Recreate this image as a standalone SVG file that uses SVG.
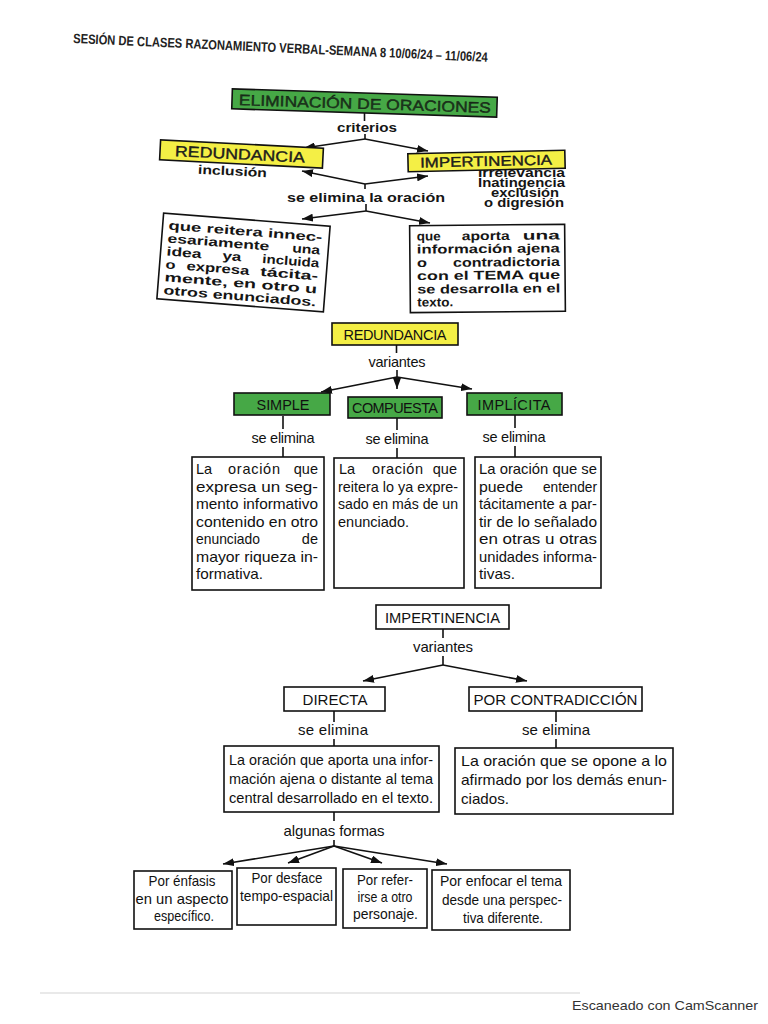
<svg xmlns="http://www.w3.org/2000/svg" width="768" height="1024" viewBox="0 0 768 1024">
<style>
.bx{stroke:#111;stroke-width:1.6}
.w{fill:#fff}
.y{fill:#f4ef45}
.g{fill:#46a846}
.c{fill:none;stroke:#111;stroke-width:1.6}
.a{marker-end:url(#ah)}
.t1{font-family:"Liberation Sans",Arial,sans-serif;font-weight:bold;font-size:12.5px;fill:#151515}
.t2{font-family:"Liberation Sans",Arial,sans-serif;font-size:14.5px;fill:#111}
.t3{font-family:"Liberation Sans",Arial,sans-serif;font-size:15px;fill:#111}
.hd{font-family:"Liberation Sans",Arial,sans-serif;fill:#222;stroke:#111;stroke-width:0.35}
.m{text-anchor:middle}
.e{text-anchor:end}
</style>
<defs>
<marker id="ah" markerUnits="userSpaceOnUse" markerWidth="11" markerHeight="8" refX="11" refY="4" orient="auto"><path d="M0,0 L11,4 L0,8 z" fill="#111"/></marker>
</defs>
<rect x="0" y="0" width="768" height="1024" fill="#fff"/>
<line x1="40" y1="993" x2="580" y2="993" stroke="#e2e2e2" stroke-width="1.5"/>

<g id="header">
<text x="73" y="43" transform="rotate(2.6 73 43)" style="font-family:'Liberation Sans',Arial,sans-serif;font-size:13.5px;font-weight:bold;fill:#222" textLength="415" lengthAdjust="spacingAndGlyphs">SESIÓN DE CLASES RAZONAMIENTO VERBAL-SEMANA 8 10/06/24 – 11/06/24</text>
</g>

<g id="connectors">
<path class="c" d="M364.5,113 V121"/>
<path class="c" d="M365,134 V139"/>
<path class="c a" d="M365,139 L304,148"/>
<path class="c a" d="M365,139 L428,151"/>
<path class="c a" d="M365,184 L302,171"/>
<path class="c a" d="M365,184 L428,176"/>
<path class="c" d="M365,184 V189"/>
<path class="c" d="M366,204 V211"/>
<path class="c a" d="M366,211 L302,219"/>
<path class="c a" d="M366,211 L430,223"/>

<path class="c" d="M396.5,345 V353"/>
<path class="c" d="M397,370 V377"/>
<path class="c a" d="M397,377 V389"/>
<path class="c a" d="M397,377 L321,392"/>
<path class="c a" d="M397,377 L472,389"/>
<path class="c" d="M283,416 V429"/>
<path class="c" d="M283,447 V457"/>
<path class="c" d="M397,418 V430"/>
<path class="c" d="M397,448 V458"/>
<path class="c" d="M515,415 V428"/>
<path class="c" d="M515,446 V457"/>

<path class="c" d="M443,629 V638"/>
<path class="c" d="M443,656 V665"/>
<path class="c a" d="M443,665 L363,681"/>
<path class="c a" d="M443,665 L527,681"/>
<path class="c" d="M334,711 V722"/>
<path class="c" d="M334,739 V746"/>
<path class="c" d="M556,711 V722"/>
<path class="c" d="M556,739 V748"/>
<path class="c" d="M334,812 V821"/>
<path class="c" d="M334,840 V846"/>
<path class="c a" d="M334,846 L223,864"/>
<path class="c a" d="M334,846 L288,863"/>
<path class="c a" d="M334,846 L382,863"/>
<path class="c a" d="M334,846 L447,864"/>
</g>

<g id="labels">
<text class="t1 m" x="367" y="131.5" font-size="13" textLength="60" lengthAdjust="spacingAndGlyphs">criterios</text>
<text class="t1" x="198" y="175.5" font-size="13" transform="rotate(2.9 233 170)" textLength="69" lengthAdjust="spacingAndGlyphs">inclusión</text>
<text class="t1 m" x="366" y="201.5" font-size="13" textLength="158" lengthAdjust="spacingAndGlyphs">se elimina la oración</text>
<text class="t1 e" x="565" y="176.5" font-size="9" textLength="87" lengthAdjust="spacingAndGlyphs">Irrelevancia</text>
<text class="t1 e" x="565" y="186.5" font-size="9" textLength="87" lengthAdjust="spacingAndGlyphs">Inatingencia</text>
<text class="t1 e" x="559" y="196.5" font-size="9" textLength="68" lengthAdjust="spacingAndGlyphs">exclusión</text>
<text class="t1 e" x="564" y="206.5" font-size="9" textLength="80" lengthAdjust="spacingAndGlyphs">o digresión</text>

<text class="t2 m" x="397" y="367" textLength="57">variantes</text>
<text class="t2 m" x="283" y="443" textLength="63">se elimina</text>
<text class="t2 m" x="397" y="444" textLength="63">se elimina</text>
<text class="t2 m" x="514" y="442" textLength="63">se elimina</text>

<text class="t3 m" x="443" y="652" textLength="60">variantes</text>
<text class="t3 m" x="333" y="735" textLength="70">se elimina</text>
<text class="t3 m" x="556" y="735" textLength="68">se elimina</text>
<text class="t3 m" x="334" y="836" textLength="101">algunas formas</text>
</g>

<g id="n-eliminacion" transform="rotate(1.8 364.5 103)">
<rect class="bx g" x="232" y="93" width="265" height="20"/>
<text class="hd m" x="365" y="109" font-size="15" textLength="252" lengthAdjust="spacingAndGlyphs" style="fill:#1c3a1c">ELIMINACIÓN DE ORACIONES</text>
</g>

<g id="n-redundancia1" transform="rotate(2.9 241.5 154)">
<rect class="bx y" x="160" y="144" width="163" height="20"/>
<text class="hd m" x="240" y="159.5" font-size="15" textLength="130" lengthAdjust="spacingAndGlyphs">REDUNDANCIA</text>
</g>

<g id="n-impertinencia1" transform="rotate(-1.3 486.5 161)">
<rect class="bx y" x="408" y="152" width="157" height="18"/>
<text class="hd m" x="486" y="166" font-size="14" textLength="132" lengthAdjust="spacingAndGlyphs">IMPERTINENCIA</text>
</g>

<g id="n-def-redundancia" transform="rotate(4.5 243.5 262.5)">
<rect class="bx w" x="160" y="219.5" width="167" height="86"/>
<text class="t1" x="166" y="235.5" textLength="154" lengthAdjust="spacingAndGlyphs">que reitera innec-</text>
<text class="t1" x="166" y="248.5" textLength="102" lengthAdjust="spacingAndGlyphs">esariamente</text>
<text class="t1 e" x="319" y="248.5" textLength="28" lengthAdjust="spacingAndGlyphs">una</text>
<text class="t1" x="166" y="261.5" textLength="35" lengthAdjust="spacingAndGlyphs">idea</text>
<text class="t1" x="222" y="261.5" textLength="19" lengthAdjust="spacingAndGlyphs">ya</text>
<text class="t1 e" x="319" y="261.5" textLength="57" lengthAdjust="spacingAndGlyphs">incluida</text>
<text class="t1" x="166" y="274.5" textLength="10" lengthAdjust="spacingAndGlyphs">o</text>
<text class="t1" x="187" y="274.5" textLength="63" lengthAdjust="spacingAndGlyphs">expresa</text>
<text class="t1 e" x="319" y="274.5" textLength="58" lengthAdjust="spacingAndGlyphs">tácita-</text>
<text class="t1" x="166" y="287.5" textLength="153" lengthAdjust="spacingAndGlyphs">mente, en otro u</text>
<text class="t1" x="166" y="300.5" textLength="153" lengthAdjust="spacingAndGlyphs">otros enunciados.</text>
</g>

<g id="n-def-impertinencia" transform="rotate(-0.5 487.5 268)">
<rect class="bx w" x="410" y="225" width="155" height="87"/>
<text class="t1" x="417" y="240" textLength="24" lengthAdjust="spacingAndGlyphs">que</text>
<text class="t1" x="462" y="240" textLength="48" lengthAdjust="spacingAndGlyphs">aporta</text>
<text class="t1 e" x="560" y="240" textLength="37" lengthAdjust="spacingAndGlyphs">una</text>
<text class="t1" x="417" y="253" textLength="143" lengthAdjust="spacingAndGlyphs">información ajena</text>
<text class="t1" x="417" y="266.5" textLength="10" lengthAdjust="spacingAndGlyphs">o</text>
<text class="t1 e" x="560" y="266.5" textLength="107" lengthAdjust="spacingAndGlyphs">contradictoria</text>
<text class="t1" x="417" y="279.5" textLength="143" lengthAdjust="spacingAndGlyphs">con el TEMA que</text>
<text class="t1" x="417" y="293" textLength="143" lengthAdjust="spacingAndGlyphs">se desarrolla en el</text>
<text class="t1" x="417" y="306" textLength="36" lengthAdjust="spacingAndGlyphs">texto.</text>
</g>

<g id="n-redundancia2">
<rect class="bx y" x="332" y="323" width="126" height="22"/>
<text class="t2 m" x="395" y="340" font-size="14" textLength="103">REDUNDANCIA</text>
</g>

<g id="n-simple">
<rect class="bx g" x="234" y="393" width="96" height="22"/>
<text class="t2 m" x="283" y="410" font-size="14" textLength="53">SIMPLE</text>
</g>
<g id="n-compuesta">
<rect class="bx g" x="348" y="397" width="94" height="21"/>
<text class="t2 m" x="395" y="413" font-size="14" textLength="86">COMPUESTA</text>
</g>
<g id="n-implicita">
<rect class="bx g" x="467" y="393" width="95" height="22"/>
<text class="t2 m" x="514" y="410" font-size="14" textLength="73">IMPLÍCITA</text>
</g>

<g id="n-def-simple">
<rect class="bx w" x="192" y="457" width="132" height="133"/>
<text class="t2" x="196" y="474">La</text>
<text class="t2" x="228" y="474" textLength="52">oración</text>
<text class="t2 e" x="318" y="474">que</text>
<text class="t2" x="196" y="491.5" textLength="122" lengthAdjust="spacingAndGlyphs">expresa un seg-</text>
<text class="t2" x="196" y="509" textLength="122" lengthAdjust="spacingAndGlyphs">mento informativo</text>
<text class="t2" x="196" y="526.5" textLength="122" lengthAdjust="spacingAndGlyphs">contenido en otro</text>
<text class="t2" x="196" y="544" textLength="64" lengthAdjust="spacingAndGlyphs">enunciado</text>
<text class="t2 e" x="318" y="544">de</text>
<text class="t2" x="196" y="561.5" textLength="122" lengthAdjust="spacingAndGlyphs">mayor riqueza in-</text>
<text class="t2" x="196" y="579" textLength="67" lengthAdjust="spacingAndGlyphs">formativa.</text>
</g>

<g id="n-def-compuesta">
<rect class="bx w" x="334" y="458" width="130" height="130"/>
<text class="t2" x="339" y="474">La</text>
<text class="t2" x="372" y="474" textLength="51">oración</text>
<text class="t2 e" x="457" y="474">que</text>
<text class="t2" x="338" y="491.5" textLength="120" lengthAdjust="spacingAndGlyphs">reitera lo ya expre-</text>
<text class="t2" x="338" y="509" textLength="120" lengthAdjust="spacingAndGlyphs">sado en más de un</text>
<text class="t2" x="338" y="526.5" textLength="71" lengthAdjust="spacingAndGlyphs">enunciado.</text>
</g>

<g id="n-def-implicita">
<rect class="bx w" x="475" y="457" width="126" height="131"/>
<text class="t2" x="479" y="474" textLength="118" lengthAdjust="spacingAndGlyphs">La oración que se</text>
<text class="t2" x="479" y="491.5" textLength="44" lengthAdjust="spacingAndGlyphs">puede</text>
<text class="t2 e" x="597" y="491.5" textLength="54" lengthAdjust="spacingAndGlyphs">entender</text>
<text class="t2" x="479" y="509" textLength="118" lengthAdjust="spacingAndGlyphs">tácitamente a par-</text>
<text class="t2" x="479" y="526.5" textLength="118" lengthAdjust="spacingAndGlyphs">tir de lo señalado</text>
<text class="t2" x="479" y="544" textLength="118" lengthAdjust="spacingAndGlyphs">en otras u otras</text>
<text class="t2" x="479" y="561.5" textLength="118" lengthAdjust="spacingAndGlyphs">unidades informa-</text>
<text class="t2" x="479" y="579" textLength="36" lengthAdjust="spacingAndGlyphs">tivas.</text>
</g>

<g id="n-impertinencia2">
<rect class="bx w" x="376" y="605" width="133" height="24"/>
<text class="t3 m" x="442.5" y="623" font-size="14.5" textLength="115" lengthAdjust="spacingAndGlyphs">IMPERTINENCIA</text>
</g>

<g id="n-directa">
<rect class="bx w" x="284" y="687" width="101" height="24"/>
<text class="t3 m" x="335" y="705" font-size="14.5" textLength="65" lengthAdjust="spacingAndGlyphs">DIRECTA</text>
</g>
<g id="n-contradiccion">
<rect class="bx w" x="469" y="687" width="173" height="24"/>
<text class="t3 m" x="555.5" y="705" font-size="14.5" textLength="164" lengthAdjust="spacingAndGlyphs">POR CONTRADICCIÓN</text>
</g>

<g id="n-def-directa">
<rect class="bx w" x="224" y="746" width="215" height="66"/>
<text class="t3" x="229" y="765" textLength="204" lengthAdjust="spacingAndGlyphs">La oración que aporta una infor-</text>
<text class="t3" x="229" y="784" textLength="204" lengthAdjust="spacingAndGlyphs">mación ajena o distante al tema</text>
<text class="t3" x="229" y="803" textLength="204" lengthAdjust="spacingAndGlyphs">central desarrollado en el texto.</text>
</g>

<g id="n-def-contradiccion">
<rect class="bx w" x="455" y="748" width="218" height="66"/>
<text class="t3" x="461" y="766" textLength="206" lengthAdjust="spacingAndGlyphs">La oración que se opone a lo</text>
<text class="t3" x="461" y="785" textLength="206" lengthAdjust="spacingAndGlyphs">afirmado por los demás enun-</text>
<text class="t3" x="461" y="804" textLength="48" lengthAdjust="spacingAndGlyphs">ciados.</text>
</g>

<g id="n-enfasis">
<rect class="bx w" x="134" y="871" width="98" height="58"/>
<text class="t3 m" x="182" y="886" textLength="67" lengthAdjust="spacingAndGlyphs">Por énfasis</text>
<text class="t3 m" x="182" y="904" textLength="93" lengthAdjust="spacingAndGlyphs">en un aspecto</text>
<text class="t3 m" x="184" y="921" textLength="60" lengthAdjust="spacingAndGlyphs">específico.</text>
</g>
<g id="n-desface">
<rect class="bx w" x="237" y="868" width="99" height="57"/>
<text class="t3 m" x="287" y="883" textLength="71" lengthAdjust="spacingAndGlyphs">Por desface</text>
<text class="t3 m" x="286.5" y="901" textLength="93" lengthAdjust="spacingAndGlyphs">tempo-espacial</text>
</g>
<g id="n-personaje">
<rect class="bx w" x="343" y="869" width="84" height="59"/>
<text class="t3 m" x="385" y="885" textLength="56" lengthAdjust="spacingAndGlyphs">Por refer-</text>
<text class="t3 m" x="385" y="902" textLength="55" lengthAdjust="spacingAndGlyphs">irse a otro</text>
<text class="t3 m" x="385.5" y="919" textLength="65" lengthAdjust="spacingAndGlyphs">personaje.</text>
</g>
<g id="n-perspectiva">
<rect class="bx w" x="432" y="870" width="138" height="60"/>
<text class="t3 m" x="501" y="886" textLength="122" lengthAdjust="spacingAndGlyphs">Por enfocar el tema</text>
<text class="t3 m" x="502" y="905" textLength="120" lengthAdjust="spacingAndGlyphs">desde una perspec-</text>
<text class="t3 m" x="503" y="923" textLength="80" lengthAdjust="spacingAndGlyphs">tiva diferente.</text>
</g>

<g id="footer">
<text x="572" y="1010" style="font-family:'Liberation Sans',Arial,sans-serif;font-size:13.5px;fill:#333" textLength="186" lengthAdjust="spacingAndGlyphs">Escaneado con CamScanner</text>
</g>
</svg>
